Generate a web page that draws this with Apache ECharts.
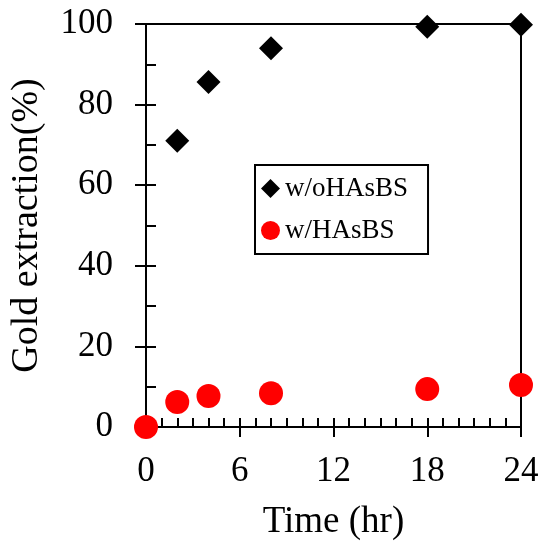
<!DOCTYPE html>
<html>
<head>
<meta charset="utf-8">
<script src="https://cdn.jsdelivr.net/npm/echarts@6/dist/echarts.min.js"></script>
<style>
html, body { margin: 0; padding: 0; background: #fff; }
#chart { width: 550px; height: 549px; }
</style>
</head>
<body>
<div id="chart"></div>
<script>
// hours
var timeWithout = [2, 4, 8, 18, 24];
var goldWithout = [71, 85.6, 94, 99.3, 99.8];
var timeWith = [0, 2, 4, 8, 18, 24];
var goldWith = [0, 6.2, 7.7, 8.4, 9.4, 10.4];

var xTicks = [0, 6, 12, 18, 24];
var yTicks = [0, 20, 40, 60, 80, 100];

function pairs(xs, ys){
    var out = [];
    for(var i = 0; i < xs.length; i++){
        out.push([xs[i], ys[i]]);
    }
    return out;
}

var font = 'Liberation Serif';
var black = '#000';

// axis 0 carries the short inside ticks and the labels, axis 1 the outside part of the major ticks
var myChart = echarts.init(document.getElementById('chart'));
myChart.setOption({
    animation: false,
    grid: {
        left: 141, right: 29, top: 24, bottom: 122,
        show: true, borderColor: black, borderWidth: 2
    },
    legend: {
        orient: 'vertical',
        left: 255, top: 165,
        padding: [10, 20, 10, 6],
        itemGap: 15,
        itemWidth: 19, itemHeight: 19,
        borderColor: black, borderWidth: 2,
        textStyle: { fontFamily: font, fontSize: 27, color: black },
        data: ['w/oHAsBS', 'w/HAsBS']
    },
    xAxis: [
        {
            type: 'value', min: xTicks[0], max: xTicks[xTicks.length - 1], interval: 1,
            name: 'Time (hr)', nameLocation: 'middle', nameGap: 77,
            nameTextStyle: { fontFamily: font, fontSize: 37, color: black },
            axisLine: { show: true, lineStyle: { color: black, width: 2 } },
            axisTick: { show: true, inside: true, length: 9, lineStyle: { color: black, width: 2 } },
            axisLabel: {
                fontFamily: font, fontSize: 35, color: black, margin: 27,
                formatter: function(v){ return xTicks.indexOf(v) >= 0 ? String(v) : ''; }
            },
            splitLine: { show: false }
        },
        {
            type: 'value', min: xTicks[0], max: xTicks[xTicks.length - 1], interval: 6,
            position: 'bottom',
            axisLine: { show: false },
            axisTick: { show: true, inside: false, length: 10, lineStyle: { color: black, width: 2 } },
            axisLabel: { show: false },
            splitLine: { show: false }
        }
    ],
    yAxis: [
        {
            type: 'value', min: yTicks[0], max: yTicks[yTicks.length - 1], interval: 10,
            name: 'Gold extraction(%)', nameLocation: 'middle', nameGap: 100,
            nameTextStyle: { fontFamily: font, fontSize: 38, color: black },
            axisLine: { show: true, lineStyle: { color: black, width: 2 } },
            axisTick: { show: true, inside: true, length: 10, lineStyle: { color: black, width: 2 } },
            axisLabel: {
                fontFamily: font, fontSize: 35, color: black, margin: 33,
                formatter: function(v){ return yTicks.indexOf(v) >= 0 ? String(v) : ''; }
            },
            splitLine: { show: false }
        },
        {
            type: 'value', min: yTicks[0], max: yTicks[yTicks.length - 1], interval: 20,
            position: 'left',
            axisLine: { show: false },
            axisTick: { show: true, inside: false, length: 11, lineStyle: { color: black, width: 2 } },
            axisLabel: { show: false },
            splitLine: { show: false }
        }
    ],
    series: [
        {
            name: 'w/oHAsBS', type: 'scatter', symbol: 'diamond', symbolSize: 24,
            itemStyle: { color: black, opacity: 1 },
            data: pairs(timeWithout, goldWithout), z: 3
        },
        {
            name: 'w/HAsBS', type: 'scatter', symbol: 'circle', symbolSize: 24,
            itemStyle: { color: '#ff0000', opacity: 1 },
            data: pairs(timeWith, goldWith), z: 4
        }
    ]
});
</script>
</body>
</html>
